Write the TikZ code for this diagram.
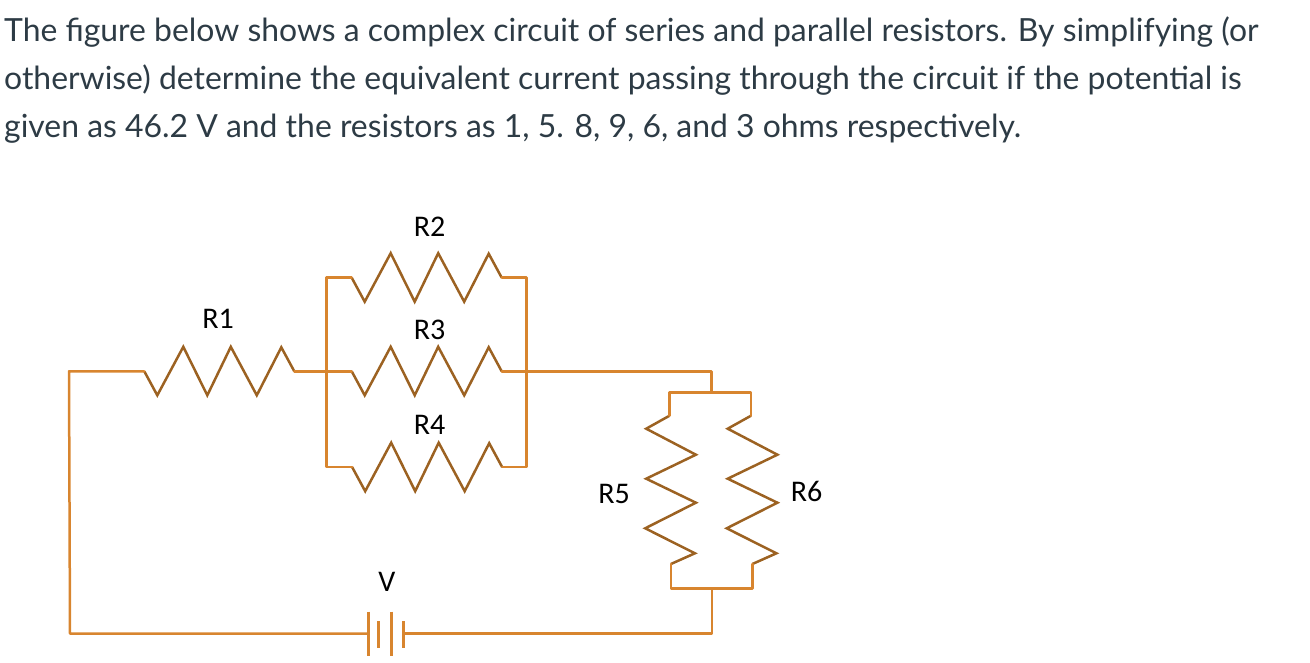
\documentclass[tikz,border=0pt]{standalone}
\usepackage{fontspec}
\setmainfont{Lato}
\newfontfamily\labelfont{Carlito}
\definecolor{wirecol}{HTML}{D8852F}
\definecolor{zigcol}{HTML}{9C6222}
\definecolor{textcol}{HTML}{2D3B45}

\tikzset{
	wire/.style={draw=wirecol, line width=2.5pt, line join=round, line cap=round},
	zig/.style={draw=zigcol, line width=2.5pt, line join=miter},
	plate/.style={draw=wirecol, line width=2.5pt},
	question/.style={anchor=base west, inner sep=0pt, text=textcol, font=\fontsize{31.9}{36}\selectfont},
	reslabel/.style={inner sep=0pt, text=black, font=\labelfont\fontsize{30}{34}\selectfont},
	reshoriz/.pic={
		\coordinate (-in) at (0,0);
		\coordinate (-out) at (150,0);
		\draw[zig] (-in) -- (13,24) -- (39,-24.5) -- (63,24) -- (86.5,-24.5) -- (112.5,24) -- (137,-24) -- (-out);
	},
	resvert/.pic={
		\coordinate (-in) at (0,0);
		\coordinate (-out) at (1.4,148.3);
		\draw[zig] (-in) -- (-23.3,13) -- (26.4,39) -- (-23.3,63) -- (26.4,87) -- (-24.3,112.6) -- (25.4,137.6) -- (-out);
	}
}

\begin{document}
\begin{tikzpicture}[x=1pt, y=-1pt]
	\useasboundingbox (0,0) rectangle (1310,662);

	\node[question] (line1) at (4,41) {The figure below shows a complex circuit of series and parallel resistors. By simplifying (or};
	\node[question] (line2) at (4,89) {otherwise) determine the equivalent current passing through the circuit if the potential is};
	\node[question] (line3) at (4,137) {given as 46.2 V and the resistors as 1, 5. 8, 9, 6, and 3 ohms respectively.};

	\pic (r1) at (144.3,371.3) {reshoriz};
	\pic (r2) at (351.7,277.7) {reshoriz};
	\pic (r3) at (351.7,371.3) {reshoriz};
	\pic (r4) at (352.2,467.2) {reshoriz};
	\pic (r5) at (669.5,415.7) {resvert};
	\pic (r6) at (751,415.7) {resvert};

	\node[reslabel] (l1) at (218,319) {R1};
	\node[reslabel] (l2) at (429.5,227) {R2};
	\node[reslabel] (l3) at (429.5,330) {R3};
	\node[reslabel] (l4) at (429.5,425) {R4};
	\node[reslabel] (l5) at (614,494) {R5};
	\node[reslabel] (l6) at (806.5,491) {R6};
	\node[reslabel] (lv) at (387,582) {V};

	\coordinate (tl) at (69,371.3);
	\coordinate (bl) at (70,633.5);
	\coordinate (bat1) at (368.5,633.5);
	\coordinate (bat4) at (403.5,633.5);
	\coordinate (br) at (712,633.5);
	\coordinate (busl2) at (326.7,277.7);
	\coordinate (busl4) at (326.7,467.2);
	\coordinate (busr2) at (526.7,277.7);
	\coordinate (busr4) at (526.7,467.2);
	\coordinate (tr) at (711.5,371.3);
	\coordinate (topj) at (711.5,392.3);
	\coordinate (topl) at (669.5,392.3);
	\coordinate (topr) at (751,392.3);
	\coordinate (botl) at (670.9,588.3);
	\coordinate (botr) at (752.4,588.3);
	\coordinate (botj) at (712,588.3);

	% outer loop
	\draw[wire] (r1-in) -- (tl) -- (bl) -- (bat1);
	\draw[wire] (bat4) -- (br) -- (botj);
	\draw[wire] (r1-out) -- (r3-in);

	% parallel group on top
	\draw[wire] (r2-in) -- (busl2) -- (busl4) -- (r4-in);
	\draw[wire] (r2-out) -- (busr2) -- (busr4) -- (r4-out);
	\draw[wire] (r3-out) -- (tr) -- (topj);

	% parallel group on the right
	\draw[wire] (r5-in) -- (topl) -- (topr) -- (r6-in);
	\draw[wire] (r5-out) -- (botl) -- (botr) -- (r6-out);

	% battery
	\coordinate (p1a) at (368.7,611.7);
	\coordinate (p1b) at (368.7,655.7);
	\coordinate (p2a) at (378.3,621);
	\coordinate (p2b) at (378.3,647.7);
	\coordinate (p3a) at (391.3,611.7);
	\coordinate (p3b) at (391.3,655.7);
	\coordinate (p4a) at (403.5,621);
	\coordinate (p4b) at (403.5,647.7);
	\path[plate]
		(p1a) edge (p1b)
		(p2a) edge (p2b)
		(p3a) edge (p3b)
		(p4a) edge (p4b);
\end{tikzpicture}
\end{document}
